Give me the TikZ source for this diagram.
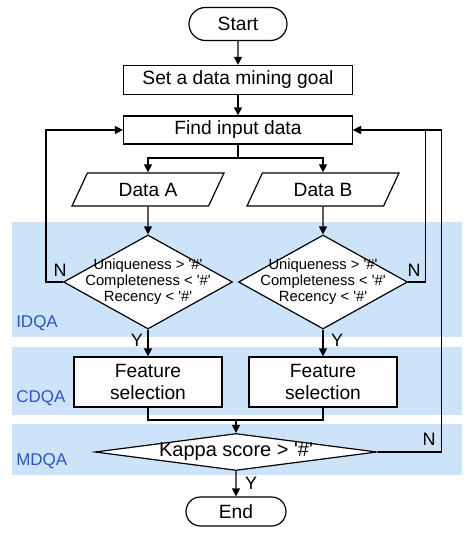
\documentclass[tikz,border=0pt]{standalone}
\usepackage{fontspec}
\setmainfont{Liberation Sans}
\usetikzlibrary{shapes.geometric,shapes.misc,arrows.meta}
\definecolor{bandblue}{RGB}{205,227,250}
\definecolor{zoneblue}{RGB}{45,85,190}
\newcommand{\qhash}{\textquotesingle\#\textquotesingle}

\begin{document}
\begin{tikzpicture}[x=0.75pt,y=0.75pt,yscale=-1,xscale=1,
  box/.style={draw,line width=0.9pt,fill=white,inner sep=0pt,font=\fontsize{14.4}{16.5}\selectfont},
  term/.style={box,rounded rectangle},
  io/.style={box,trapezium,trapezium left angle=41,trapezium right angle=139,trapezium stretches body,minimum width=114pt,minimum height=24.75pt},
  cond/.style={draw,line width=0.9pt,fill=white,diamond,inner sep=0pt},
  condtext/.style={inner sep=0pt,align=center,font=\fontsize{11.1}{12}\selectfont},
  flow/.style={line width=0.9pt,-{Triangle[length=6pt,width=6pt]}},
  link/.style={line width=0.9pt},
  yn/.style={inner sep=0pt,font=\fontsize{13.5}{16}\selectfont},
  zone/.style={inner sep=0pt,anchor=west,text=zoneblue,font=\fontsize{12.75}{15}\selectfont}]
\useasboundingbox (0,0) rectangle (474,535);
\fill[bandblue] (12,222) rectangle (462,337);
\fill[bandblue] (12,347) rectangle (462,415);
\fill[bandblue] (12,424) rectangle (462,475);
\node[zone] (idqa) at (16,323) {IDQA};
\node[zone] (cdqa) at (16,398) {CDQA};
\node[zone] (mdqa) at (16,461) {MDQA};
\node[term,minimum width=73.5pt,minimum height=24.75pt] (start) at (238,24) {Start};
\node[box,minimum width=171.75pt,minimum height=21.75pt] (goal) at (238,80) {Set a data mining goal};
\node[box,minimum width=171.75pt,minimum height=21pt] (find) at (238,130) {Find input data};
\coordinate (split) at (238,158);
\node[io] (dataA) at (148,189.5) {Data A};
\node[io] (dataB) at (323,189.5) {Data B};
\node[cond,minimum width=126.75pt,minimum height=70.5pt] (chkA) at (148,282) {};
\node[condtext] (chkAtext) at (chkA) {Uniqueness > \qhash\\Completeness < \qhash\\Recency < \qhash};
\node[cond,minimum width=126.75pt,minimum height=70.5pt] (chkB) at (323,282) {};
\node[condtext] (chkBtext) at (chkB) {Uniqueness > \qhash\\Completeness < \qhash\\Recency < \qhash};
\node[box,minimum width=111pt,minimum height=37.5pt,align=center] (featA) at (148,382) {Feature\\selection};
\node[box,minimum width=111pt,minimum height=37.5pt,align=center] (featB) at (323,382) {Feature\\selection};
\coordinate (merge) at (236,420);
\node[cond,minimum width=211.5pt,minimum height=27.75pt] (kappa) at (236,452) {};
\node[box,draw=none,fill=none,font=\fontsize{15}{17}\selectfont] (kappatext) at (kappa) {Kappa score > \qhash};
\node[term,minimum width=75pt,minimum height=21.75pt] (end) at (236,511.5) {End};
\draw[flow] (start) -- (goal);
\draw[flow] (goal) -- (find);
\draw[link] (find) -- (split);
\draw[flow] (split) -| (dataA);
\draw[flow] (split) -| (dataB);
\draw[flow] (dataA) -- (chkA);
\draw[flow] (dataB) -- (chkB);
\draw[flow] (chkA) -- (featA);
\draw[flow] (chkB) -- (featB);
\draw[flow] (chkA.west) -- ++(-17,0) |- (find.west);
\draw[flow] (chkB.east) -- ++(17,0) |- (find.east);
\draw[flow] (kappa.east) -- ++(64,0) |- (find.east);
\draw[link] (featA) |- (merge);
\draw[link] (featB) |- (merge);
\draw[flow] (merge) -- (kappa);
\draw[flow] (kappa) -- (end);
\node[yn] (nA) at (60,270) {N};
\node[yn] (nB) at (414,270) {N};
\node[yn] (nK) at (429,439) {N};
\node[yn] (yA) at (137,340) {Y};
\node[yn] (yB) at (337,340) {Y};
\node[yn] (yK) at (251,483) {Y};
\end{tikzpicture}
\end{document}
